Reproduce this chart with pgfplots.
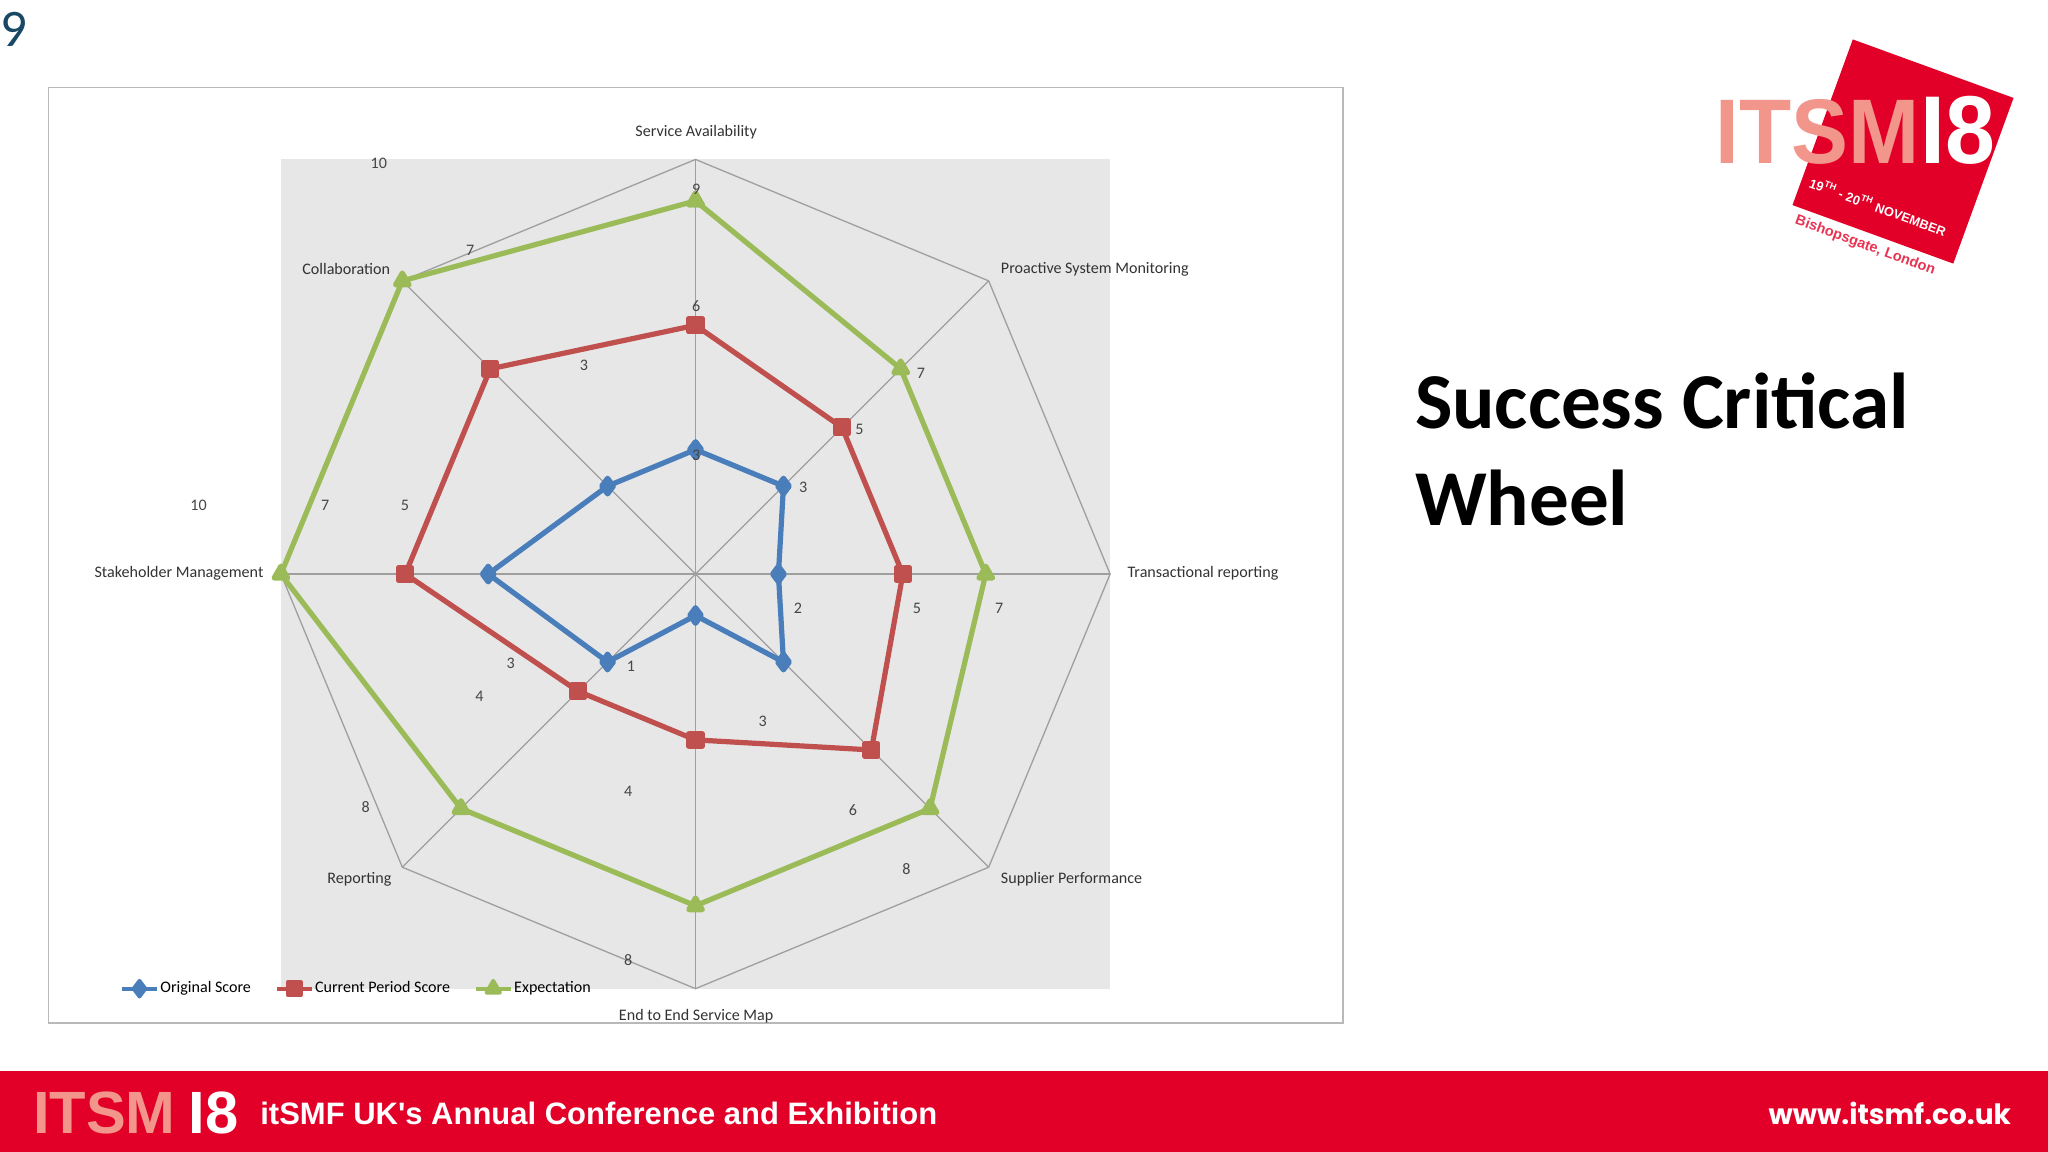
\documentclass[border=0pt]{standalone}
\usepackage{pgfplots}
\pgfplotsset{compat=1.18}
\usepackage{fontspec}
\setmainfont{Carlito}
\newfontfamily\footfont{Liberation Sans}
\newfontfamily\logofont[FakeStretch=0.93]{Liberation Sans}
\newfontfamily\popfont{Poppins}
\definecolor{xblue}{RGB}{74,126,187}
\definecolor{xred}{RGB}{192,80,77}
\definecolor{xgreen}{RGB}{155,187,89}
\definecolor{plotbg}{RGB}{231,231,232}
\definecolor{itred}{RGB}{226,0,40}
\definecolor{salmon}{RGB}{242,150,140}
\definecolor{numblue}{RGB}{25,72,100}
\definecolor{lbl}{RGB}{70,70,70}
\newcommand\cf{\fontsize{7}{8.4}\selectfont}
\begin{document}
\begin{tikzpicture}[x=0.02cm,y=-0.02cm]
\path[fill=white] (0,0) rectangle (1568,882);
% slide number
\node[anchor=north west, inner sep=0, text=numblue, font=\fontsize{23}{26}\selectfont] at (0,9) {9};
% chart frame
\draw[gray!55, line width=0.025cm] (37,67) rectangle (1028,783);
\coordinate (C) at (532.5,439.5);
\begin{axis}[at={(C)}, anchor=center, width=12.7cm, height=12.7cm, scale only axis,
  xmin=-10, xmax=10, ymin=-10, ymax=10,
  axis line style={draw=none}, ticks=none,
  axis background/.style={fill=plotbg},
  clip=false,
  legend columns=3,
  legend style={draw=none, fill=none, font=\cf, at={(axis description cs:-0.203,0.0)}, anchor=west,
    nodes={inner xsep=0.6pt},
    /tikz/every even column/.append style={column sep=0.34cm}},
  legend cell align=left,
  legend image code/.code={\draw[#1, mark repeat=2, mark phase=2, line width=0.06cm] plot coordinates {(0cm,0cm) (0.27cm,0cm) (0.54cm,0cm)};}
]
% grid: outer octagon and spokes
\addplot[gray!75, line width=0.02cm, data cs=polar, forget plot] coordinates {(90,10) (45,10) (0,10) (-45,10) (-90,10) (-135,10) (180,10) (135,10) (90,10)};
\addplot[gray!75, line width=0.02cm, data cs=polar, forget plot] coordinates {(90,10) (-90,10)};
\addplot[gray!75, line width=0.02cm, data cs=polar, forget plot] coordinates {(45,10) (-135,10)};
\addplot[gray!75, line width=0.02cm, data cs=polar, forget plot] coordinates {(0,10) (180,10)};
\addplot[gray!75, line width=0.02cm, data cs=polar, forget plot] coordinates {(-45,10) (135,10)};
% series
\addplot[xblue, line width=0.08cm, line join=round, mark=diamond*, mark size=3.4pt, mark options={solid}, data cs=polar]
  coordinates {(90,3) (45,3) (0,2) (-45,3) (-90,1) (-135,3) (180,5) (135,3) (90,3)};
\addlegendentry{Original Score}
\addplot[xred, line width=0.08cm, line join=round, mark=square*, mark size=2.8pt, data cs=polar]
  coordinates {(90,6) (45,5) (0,5) (-45,6) (-90,4) (-135,4) (180,7) (135,7) (90,6)};
\addlegendentry{Current Period Score}
\addplot[xgreen, line width=0.08cm, line join=round, mark=triangle*, mark size=3.4pt, data cs=polar]
  coordinates {(90,9) (45,7) (0,7) (-45,8) (-90,8) (-135,8) (180,10) (135,10) (90,9)};
\addlegendentry{Expectation}
\end{axis}
% category labels
\begin{scope}[every node/.style={font=\cf, text=black!80, inner sep=0}]
\node at (533,101) {Service Availability};
\node[anchor=west] at (766,206) {Proactive System Monitoring};
\node[anchor=west] at (863,439) {Transactional reporting};
\node[anchor=west] at (766,673) {Supplier Performance};
\node at (533,778) {End to End Service Map};
\node[anchor=east] at (300,673) {Reporting};
\node[anchor=east] at (202,439) {Stakeholder Management};
\node[anchor=east] at (299,206) {Collaboration};
\end{scope}
% data labels
\begin{scope}[every node/.style={font=\cf, text=lbl, inner sep=0}]
\node at (290,125) {10};
\node at (360,192) {7};
\node at (447,280) {3};
\node at (533,145) {9};
\node at (533,234) {6};
\node at (533,349) {3};
\node at (705,286) {7};
\node at (658,329) {5};
\node at (615,373) {3};
\node at (152,387) {10};
\node at (249,387) {7};
\node at (310,387) {5};
\node at (611,466) {2};
\node at (702,466) {5};
\node at (765,466) {7};
\node at (391,508) {3};
\node at (483,510) {1};
\node at (367,533) {4};
\node at (584,552) {3};
\node at (481,606) {4};
\node at (653,620) {6};
\node at (280,618) {8};
\node at (694,665) {8};
\node at (481,735) {8};
\end{scope}
% title
\node[anchor=base west, inner sep=0, font=\fontsize{34.5}{40}\selectfont\bfseries] at (1083,328) {Success Critical};
\node[anchor=base west, inner sep=0, font=\fontsize{34.5}{40}\selectfont\bfseries] at (1083,402) {Wheel};
% top-right logo
\node[fill=itred, rotate=-20, minimum width=2.62cm, minimum height=2.7cm, inner sep=0] at (1457,116) {};
\node[anchor=base west, inner sep=0, text=salmon, font=\fontsize{40}{44}\selectfont\logofont\bfseries] at (1313,125) {ITSM};
\node[anchor=base west, inner sep=0, text=white, font=\fontsize{42}{44}\selectfont\logofont\bfseries] at (1470,125) {I8};
\node[rotate=-20, inner sep=0, text=white, font=\fontsize{5.6}{7}\selectfont\footfont\bfseries] at (1438,158) {19\textsuperscript{TH} - 20\textsuperscript{TH} NOVEMBER};
\node[rotate=-20, inner sep=0, text=itred!80, font=\fontsize{6.3}{7}\selectfont\footfont\bfseries] at (1428,188) {Bishopsgate, London};
% footer
\fill[itred] (0,820) rectangle (1568,882);
\node[anchor=base west, inner sep=0, text=salmon, font=\fontsize{26}{30}\selectfont\footfont\bfseries] at (25,868) {ITSM};
\node[anchor=base west, inner sep=0, text=white, font=\fontsize{26}{30}\selectfont\footfont\bfseries] at (144,868) {I8};
\node[anchor=base west, inner sep=0, text=white, font=\fontsize{13.5}{16}\selectfont\footfont\bfseries] at (199,861) {itSMF UK's Annual Conference and Exhibition};
\node[anchor=base east, inner sep=0, text=white, font=\fontsize{12.2}{16}\selectfont\popfont\bfseries] at (1540,861) {www.itsmf.co.uk};
\end{tikzpicture}
\end{document}
